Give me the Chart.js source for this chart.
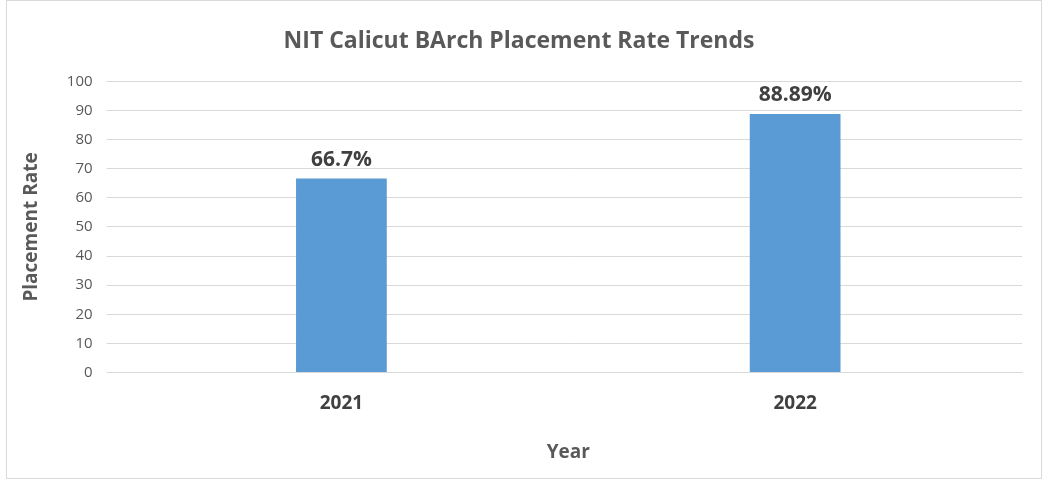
<!DOCTYPE html>
<html><head><meta charset="utf-8">
<script src="https://cdn.jsdelivr.net/npm/chart.js@4"></script>
<style>html,body{margin:0;padding:0;background:#fff}#w{width:1048px;height:484px}</style>
</head><body><div id="w"><canvas id="c"></canvas></div>
<script>
const categories = ["2021", "2022"];
const placementRate = [66.7, 88.89];
const dataLabels = ["66.7%", "88.89%"];
const yTicks = [0,10,20,30,40,50,60,70,80,90,100];

const labelPlugin = {
  id: 'lbl',
  afterDatasetsDraw(chart) {
    const ctx = chart.ctx;
    const meta = chart.getDatasetMeta(0);
    ctx.save();
    ctx.font = 'bold 21px "Open Sans", sans-serif';
    ctx.fillStyle = '#404040';
    ctx.textAlign = 'center';
    ctx.textBaseline = 'bottom';
    meta.data.forEach((b, i) => ctx.fillText(dataLabels[i], b.x, b.y - 8));
    ctx.restore();
  }
};
const border = {
  id: 'border',
  beforeDraw(chart) {
    const ctx = chart.ctx;
    ctx.save();
    ctx.fillStyle = '#fff';
    ctx.fillRect(0,0,chart.width,chart.height);
    ctx.strokeStyle = '#d9d9d9';
    ctx.strokeRect(6.5, 0.5, chart.width - 13, chart.height - 6);
    ctx.restore();
  }
};
Chart.defaults.font.family = '"Open Sans", sans-serif';
new Chart(document.getElementById('c'), {
  type: 'bar',
  data: { labels: categories, datasets: [{ data: placementRate, backgroundColor: '#5b9bd5', barPercentage: 0.2, categoryPercentage: 1 }] },
  options: {
    responsive: true, maintainAspectRatio: false, animation: false,
    devicePixelRatio: 1,
    layout: { padding: { left: 16, right: 26, top: 14, bottom: 16 } },
    plugins: {
      legend: { display: false }, tooltip: { enabled: false },
      title: { display: true, text: 'NIT Calicut BArch Placement Rate Trends', color: '#595959',
        font: { size: 23, weight: 'bold' }, padding: { top: 14, bottom: 26 } }
    },
    scales: {
      x: {
        grid: { display: false },
        border: { color: '#d9d9d9' },
        ticks: { color: '#404040', font: { size: 19, weight: 'bold' }, padding: 12 },
        title: { display: true, text: 'Year', color: '#595959', font: { size: 19, weight: 'bold' }, padding: { top: 14 } }
      },
      y: {
        min: 0, max: 100,
        afterBuildTicks(ax) { ax.ticks = yTicks.map(v => ({ value: v })); },
        grid: { color: '#d9d9d9' },
        border: { display: false },
        ticks: { color: '#595959', font: { size: 15 }, padding: 14 },
        title: { display: true, text: 'Placement Rate', color: '#595959', font: { size: 19, weight: 'bold' }, padding: { bottom: 10 } }
      }
    }
  },
  plugins: [border, labelPlugin]
});
</script></body></html>
